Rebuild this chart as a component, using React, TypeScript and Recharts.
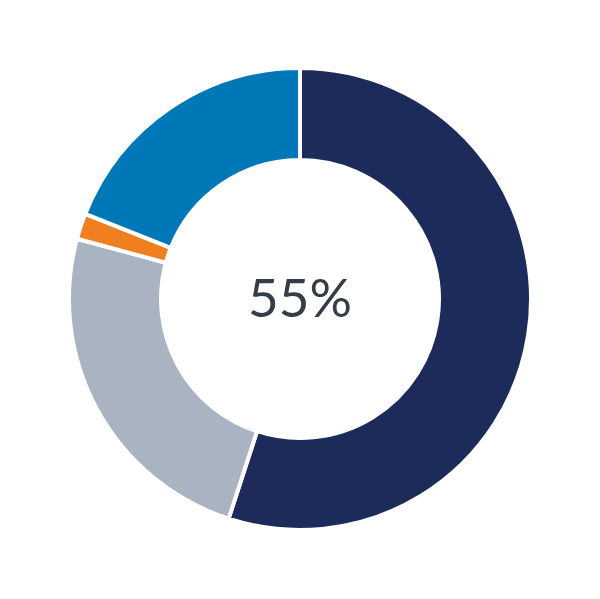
import { PieChart, Pie, Cell } from 'recharts';

const segments = ['Navy', 'Gray', 'Orange', 'Blue'];
const shares = [55, 24.2, 1.8, 19];
const colors = ['#1c2b5a', '#a9b3c2', '#f07f1f', '#0077b6'];
const centerLabel = '55%';

const data = segments.map((name, i) => ({ name, value: shares[i] }));

export default function App() {
  return (
    <div style={{ position: 'absolute', left: 0, top: 0, width: 600, height: 599, background: '#fff' }}>
      <PieChart width={600} height={599} margin={{ top: 0, right: 0, bottom: 0, left: 0 }}>
        <Pie
          data={data}
          dataKey="value"
          cx={300}
          cy={299}
          innerRadius={139}
          outerRadius={231}
          startAngle={90}
          endAngle={-270}
          stroke="#ffffff"
          strokeWidth={4}
          isAnimationActive={false}
        >
          {data.map((d, i) => (
            <Cell key={d.name} fill={colors[i]} />
          ))}
        </Pie>
        <text
          x={300}
          y={296}
          textAnchor="middle"
          dominantBaseline="central"
          fontFamily="Lato, 'Open Sans', sans-serif"
          fontSize={53}
          fill="#353d47"
        >
          {centerLabel}
        </text>
      </PieChart>
    </div>
  );
}
